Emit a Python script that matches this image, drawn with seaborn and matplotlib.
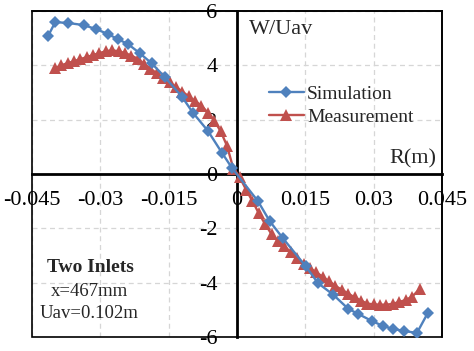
import matplotlib
matplotlib.use("Agg")
import matplotlib.pyplot as plt
import seaborn as sns
import pandas as pd
from matplotlib.patches import Rectangle

# ---- data ----
sim_r = [-0.0415, -0.0399, -0.0371, -0.0336, -0.0309, -0.0283, -0.0261, -0.0239,
         -0.0213, -0.0187, -0.0158, -0.0121, -0.0097, -0.0064, -0.0033, -0.0011,
         0.0046, 0.0072, 0.0101, 0.0151, 0.0178, 0.0211, 0.0244, 0.0266,
         0.0296, 0.0320, 0.0342, 0.0367, 0.0395, 0.0419]
sim_w = [5.07, 5.59, 5.56, 5.48, 5.33, 5.15, 4.96, 4.78,
         4.44, 4.07, 3.56, 2.85, 2.26, 1.59, 0.78, 0.22,
         -1.00, -1.74, -2.37, -3.40, -4.02, -4.44, -4.96, -5.15,
         -5.41, -5.59, -5.70, -5.78, -5.85, -5.11]

meas_r = [-0.0400, -0.0386, -0.0372, -0.0358, -0.0344, -0.0330, -0.0316, -0.0302,
          -0.0288, -0.0274, -0.0260, -0.0246, -0.0232, -0.0218, -0.0204, -0.0190,
          -0.0176, -0.0162, -0.0148, -0.0134, -0.0120, -0.0106, -0.0092, -0.0078,
          -0.0064, -0.0050, -0.0036, -0.0022, -0.0008, 0.0006, 0.0020, 0.0034,
          0.0048, 0.0062, 0.0076, 0.0090, 0.0104, 0.0118, 0.0132, 0.0146,
          0.0160, 0.0174, 0.0188, 0.0202, 0.0216, 0.0230, 0.0244, 0.0258,
          0.0272, 0.0286, 0.0300, 0.0314, 0.0328, 0.0342, 0.0356, 0.0370,
          0.0384, 0.0402]
meas_w = [3.89, 4.00, 4.08, 4.15, 4.23, 4.30, 4.38, 4.45,
          4.52, 4.55, 4.52, 4.45, 4.36, 4.24, 4.05, 3.88,
          3.70, 3.52, 3.37, 3.20, 3.03, 2.86, 2.68, 2.52,
          2.25, 1.96, 1.58, 1.04, 0.20, -0.12, -0.58, -1.00,
          -1.45, -1.85, -2.22, -2.47, -2.66, -2.88, -3.10, -3.30,
          -3.47, -3.62, -3.78, -3.95, -4.12, -4.26, -4.40, -4.54,
          -4.66, -4.77, -4.80, -4.81, -4.81, -4.78, -4.71, -4.64,
          -4.52, -4.22]

x_ticks = [-0.045, -0.03, -0.015, 0, 0.015, 0.03, 0.045]
x_tick_labels = ["-0.045", "-0.03", "-0.015", "0", "0.015", "0.03", "0.045"]
y_ticks = [-6, -4, -2, 0, 2, 4, 6]
y_tick_labels = ["-6", "-4", "-2", "0", "2", "4", "6"]

sim_label = "Simulation"
meas_label = "Measurement"
blue = "#4F81BD"
red = "#C0504D"

sns.set_style("white")
plt.rcParams["font.family"] = ["Liberation Serif", "DejaVu Serif"]
plt.rcParams["axes.unicode_minus"] = False

fig = plt.figure(figsize=(4.74, 3.51), dpi=100)
ax = fig.add_axes([32 / 474, 14 / 351, 410 / 474, 326 / 351])

sim_df = pd.DataFrame({"r": sim_r, "w": sim_w})
meas_df = pd.DataFrame({"r": meas_r, "w": meas_w})

sns.lineplot(data=sim_df, x="r", y="w", ax=ax, color=blue, lw=1.7, marker="D",
             markersize=6, markeredgewidth=0, label=sim_label, sort=False,
             estimator=None, zorder=4)
sns.lineplot(data=meas_df, x="r", y="w", ax=ax, color=red, lw=1.7, marker="^",
             markersize=8.5, markeredgewidth=0, label=meas_label, sort=False,
             estimator=None, zorder=3)

ax.set_xlim(-0.045, 0.045)
ax.set_ylim(-6, 6)
ax.set_xlabel("")
ax.set_ylabel("")

ax.set_xticks(x_ticks)
ax.set_xticklabels(x_tick_labels)
ax.set_yticks(y_ticks)
ax.set_yticklabels(y_tick_labels)

# axes lines through origin
ax.spines["left"].set_position(("data", 0))
ax.spines["bottom"].set_position(("data", 0))
for s in ["left", "bottom"]:
    ax.spines[s].set_linewidth(2.0)
    ax.spines[s].set_color("black")
    ax.spines[s].set_zorder(2)
for s in ["top", "right"]:
    ax.spines[s].set_linewidth(1.2)
    ax.spines[s].set_color("black")
ax.add_patch(Rectangle((0, 0), 1, 1, transform=ax.transAxes, fill=False,
                       edgecolor="black", lw=1.2, clip_on=False, zorder=1))

ax.tick_params(axis="x", length=0, pad=12, labelsize=16, colors="black")
ax.tick_params(axis="y", length=0, pad=14, labelsize=16, colors="black")

ax.grid(True, color="#D6D6D6", lw=0.9, ls=(0, (4, 3)))
ax.set_axisbelow(True)

leg = ax.legend(loc="center left", bbox_to_anchor=((269 - 32) / 410, (337 - 105.5) / 326),
                frameon=False, fontsize=14, handlelength=1.8, handletextpad=0.15,
                borderpad=0, borderaxespad=0, labelspacing=0.3)

ax.text((249 - 32) / 410, (337 - 29) / 326, "W/Uav", transform=ax.transAxes,
        fontsize=16, ha="left", va="center")
ax.text((436 - 32) / 410, (337 - 159) / 326, "R(m)", transform=ax.transAxes,
        fontsize=16, ha="right", va="center")
ax.text((90 - 32) / 410, (337 - 268) / 326, "Two Inlets", transform=ax.transAxes,
        fontsize=14, fontweight="bold", ha="center", va="center")
ax.text((89 - 32) / 410, (337 - 292) / 326, "x=467mm", transform=ax.transAxes,
        fontsize=13.5, ha="center", va="center")
ax.text((89 - 32) / 410, (337 - 314) / 326, "Uav=0.102m", transform=ax.transAxes,
        fontsize=13.5, ha="center", va="center")

fig.savefig("out.png", dpi=100)
